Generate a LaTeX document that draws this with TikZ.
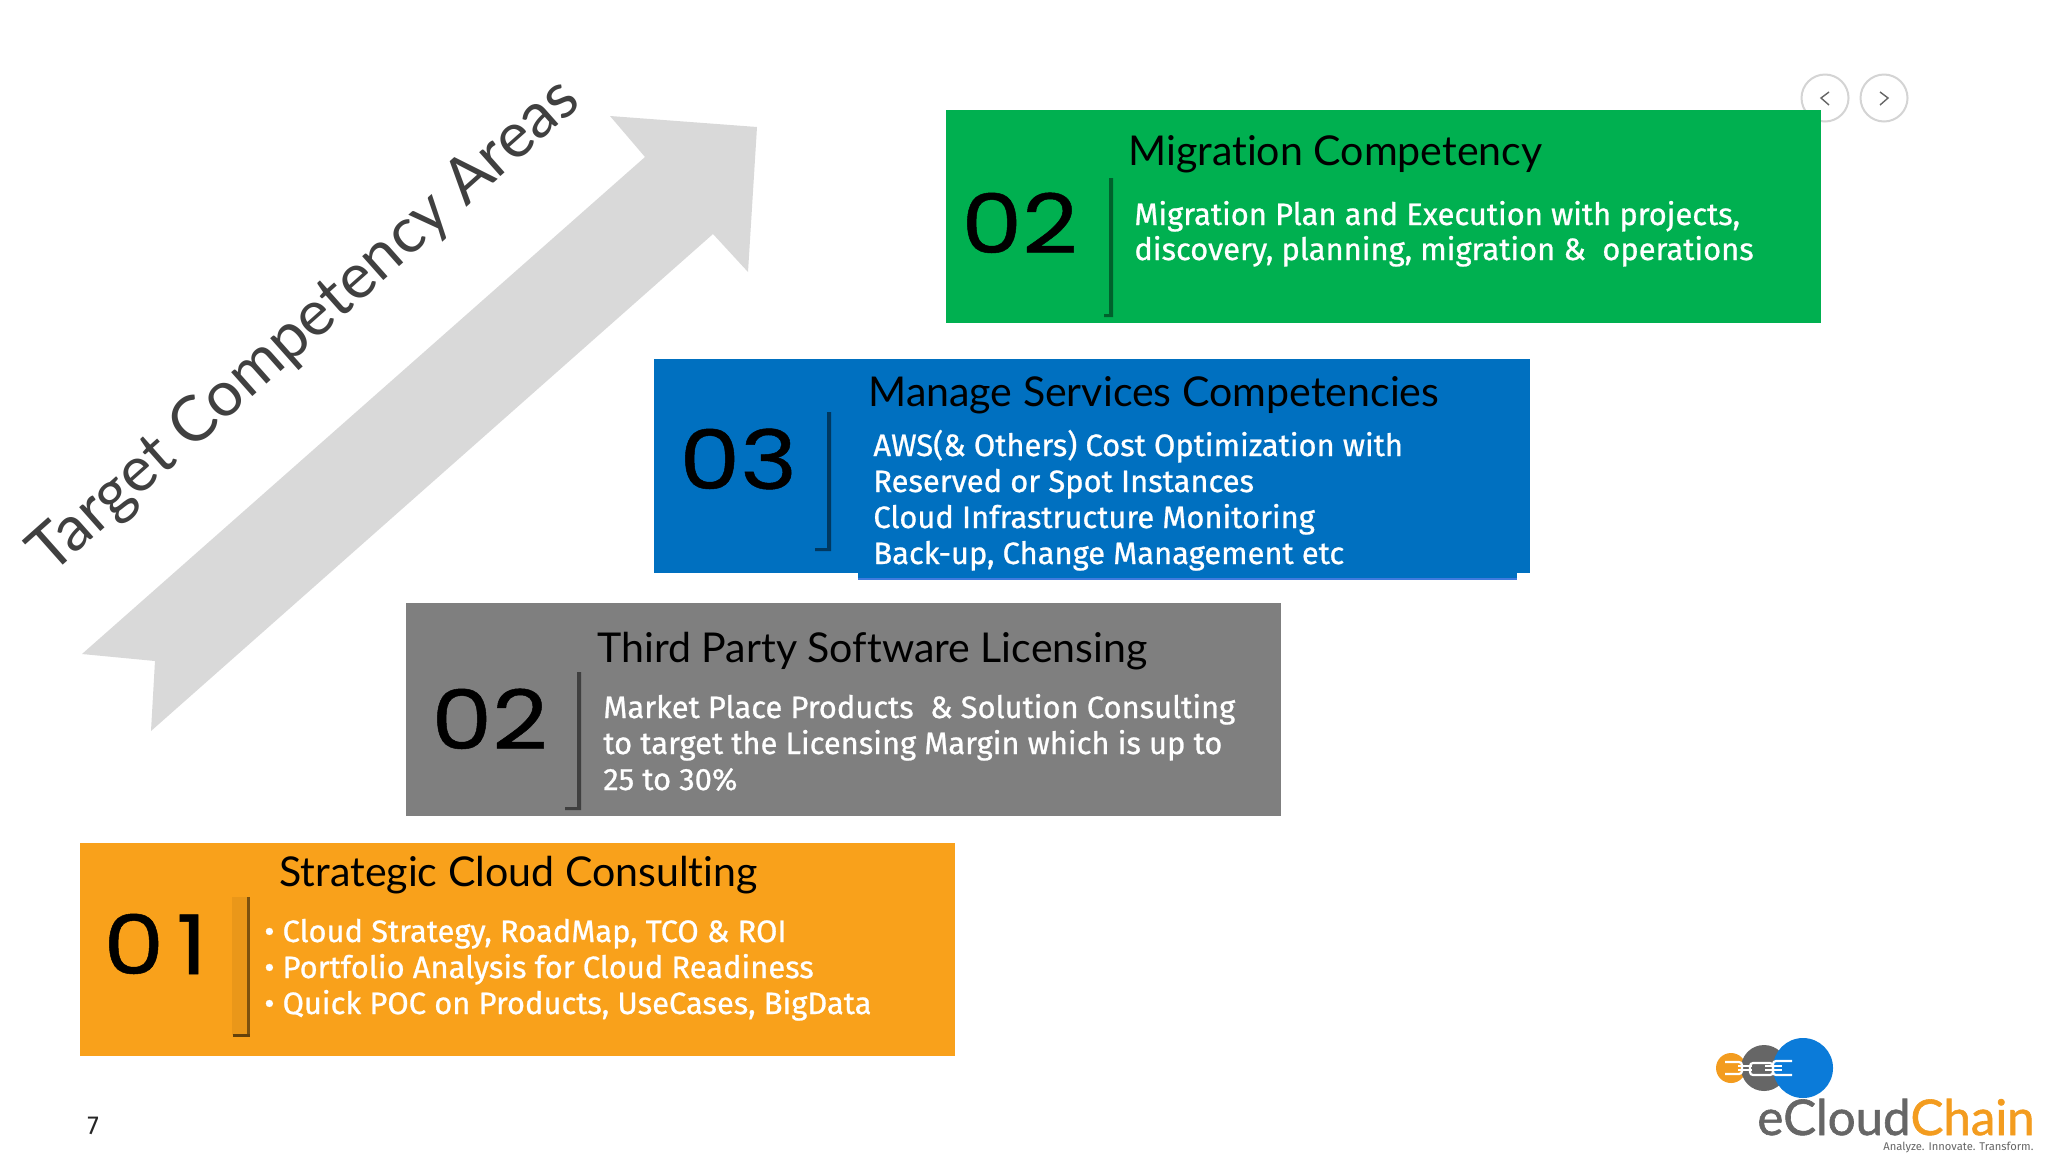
\documentclass[tikz,border=0pt]{standalone}
\usepackage{fontspec}
\setmainfont{Fira Sans}
\newfontfamily\titlef[Ligatures=NoCommon]{Lato}
\newfontfamily\numf[FakeStretch=1.18,FakeBold=0.6]{Poppins}
\newfontfamily\bodyf[FakeBold=0.8]{Fira Sans}
\newfontfamily\logof[FakeBold=1.2,Ligatures=NoCommon]{Lato}
\definecolor{cgreen}{HTML}{00B050}
\definecolor{cblue}{HTML}{0070C0}
\definecolor{cgray}{HTML}{7F7F7F}
\definecolor{corange}{HTML}{F9A11B}
\definecolor{carrow}{HTML}{D9D9D9}
\definecolor{lgblue}{HTML}{0B7BD9}
\definecolor{lggray}{HTML}{666666}
\definecolor{lgorange}{HTML}{F39C1F}
\tikzset{
 ttl/.style={inner sep=0pt,anchor=base west,text=black,font=\titlef\fontsize{20.55}{24}\selectfont},
 num/.style={inner sep=0pt,anchor=base west,text=black,font=\numf\fontsize{41}{48}\selectfont},
 bodytxt/.style={inner sep=0pt,anchor=base west,text=white,font=\bodyf\fontsize{15.45}{18}\selectfont},
 navc/.style={circle,draw=black!17,line width=1pt,fill=white,minimum size=23.5pt,inner sep=0pt},
 chev/.style={draw=black!60,line width=0.7pt},
 link/.style={draw=white,line width=1.1pt,rounded corners=1.5pt}
}
\begin{document}
\begin{tikzpicture}[x=0.5pt,y=-0.5pt]
\useasboundingbox (0,0) rectangle (2048,1152);
\fill[white] (0,0) rectangle (2048,1152);
% big arrow
\fill[carrow] (757,127) -- (610,116) -- (645,157) -- (82,654) -- (155,661) -- (151,731) -- (713,234) -- (748,272) -- cycle;
\node[inner sep=0pt,anchor=base west,rotate=41.6,text=black!75,font=\titlef\fontsize{31.5}{36}\selectfont] (arrowlabel) at (51,576) {Target Competency Areas};
% nav
\node[navc] (prev) at (1825,98) {};
\node[navc] (next) at (1884,98) {};
\draw[chev] (1829,92) -- (1821,98) -- (1829,105);
\draw[chev] (1880,92) -- (1888,98) -- (1880,105);
% green
\fill[cgreen] (946,110) rectangle (1821,323);
\node[ttl] (t1) at (1128,165) {Migration Competency};
\node[num] (n1) at (961,253) {02};
\fill[black!45!cgreen] (1109,178) -- (1113,178) -- (1113,317) -- (1104,317) -- (1104,314) -- (1109,314) -- cycle;
\node[bodytxt] (b1a) at (1134,225) {Migration Plan and Execution with projects,};
\node[bodytxt] (b1b) at (1134,260) {discovery, planning, migration \&\ \ operations};
% blue
\fill[cblue] (654,359) rectangle (1530,573);
\fill[cblue] (858,573) rectangle (1517,579);
\draw[blue!30!cblue!75!white,line width=0.6pt] (858,579) -- (1517,579);
\node[ttl] (t2) at (868,406) {Manage Services Competencies};
\node[num] (n2) at (679,489) {03};
\fill[black!50!cblue] (827,412) -- (831,412) -- (831,551) -- (815,551) -- (815,548) -- (827,548) -- cycle;
\node[bodytxt] (b2a) at (873,456) {AWS(\& Others) Cost Optimization with};
\node[bodytxt] (b2b) at (873,492) {Reserved or Spot Instances};
\node[bodytxt] (b2c) at (873,528) {Cloud Infrastructure Monitoring};
\node[bodytxt] (b2d) at (873,564) {Back-up, Change Management etc};
% gray
\fill[cgray] (406,603) rectangle (1281,816);
\node[ttl] (t3) at (597,662) {Third Party Software Licensing};
\node[num] (n3) at (431,749) {02};
\fill[black!50!cgray] (577,672) -- (581,672) -- (581,810) -- (565,810) -- (565,807) -- (577,807) -- cycle;
\node[bodytxt] (b3a) at (603,718) {Market Place Products \ \& Solution Consulting};
\node[bodytxt] (b3b) at (603,754) {to target the Licensing Margin which is up to};
\node[bodytxt] (b3c) at (603,790) {25 to 30\%};
% orange
\fill[corange] (80,843) rectangle (955,1056);
\node[ttl] (t4) at (279,886) {Strategic Cloud Consulting};
\node[num] (n4) at (103,974) {0\kern6pt 1};
\fill[black!6!corange] (232,897) rectangle (247,1035);
\fill[black!50!corange] (247,897) rectangle (250,1036);
\fill[black!60!corange] (233,1034) rectangle (250,1037);
\node[bodytxt] (b4a) at (264,942) {\textbullet\ Cloud Strategy, RoadMap, TCO \& ROI};
\node[bodytxt] (b4b) at (264,978) {\textbullet\ Portfolio Analysis for Cloud Readiness};
\node[bodytxt] (b4c) at (264,1014) {\textbullet\ Quick POC on Products, UseCases, BigData};
% page number
\node[inner sep=0pt,anchor=base west,text=black!85,font=\fontsize{13}{15}\selectfont] (pg) at (87,1134) {7};
% logo
\fill[lgorange] (1731,1068) circle (15);
\fill[lggray] (1764,1068) circle (23);
\fill[lgblue] (1803,1068) circle (30);
\draw[link] (1725,1062) -- (1742,1062) -- (1742,1074) -- (1725,1074);
\draw[link] (1738,1066) -- (1752,1066) (1738,1070) -- (1752,1070);
\draw[link] (1750,1063) rectangle (1773,1075);
\draw[link] (1765,1066) -- (1782,1066) (1765,1070) -- (1782,1070);
\draw[link] (1792,1061) -- (1773,1061) -- (1773,1075) -- (1792,1075);
\node[inner sep=0pt,anchor=base west,text=lggray,font=\logof\fontsize{24.6}{30}\selectfont] (lg1) at (1757,1135) {eCloud\textcolor{lgorange}{Chain}};
\node[inner sep=0pt,anchor=base west,text=black!60,font=\fontsize{5.6}{7}\selectfont] (lg2) at (1883,1150) {Analyze. Innovate. Transform.};
\end{tikzpicture}
\end{document}
